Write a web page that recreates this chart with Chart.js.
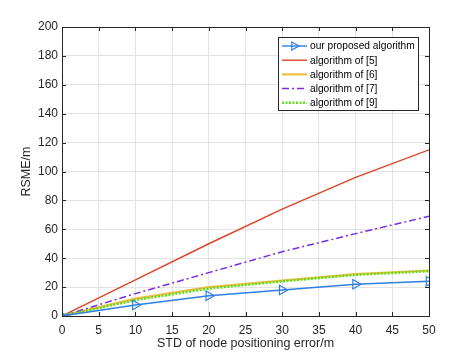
<!DOCTYPE html>
<html><head><meta charset="utf-8">
<script src="https://cdn.jsdelivr.net/npm/chart.js@4"></script>
<style>html,body{margin:0;padding:0;background:#fff}#w{width:474px;height:356px}</style>
</head><body><div id="w"><canvas id="c" width="474" height="356"></canvas></div>
<script>
const xValues = [0, 10, 20, 30, 40, 50];
const ours = [0, 7.6, 14, 18, 22, 24];
const alg5 = [0, 25, 50, 74, 96, 115];
const alg6 = [0, 12, 20, 24.5, 29, 31.5];
const alg7 = [0, 15.5, 30, 44.5, 57, 69];
const alg9 = [0, 11, 19, 24, 28.5, 31];
const labels = ['our proposed algorithm','algorithm of [5]','algorithm of [6]','algorithm of [7]','algorithm of [9]'];
const xTicks = [0,5,10,15,20,25,30,35,40,45,50];
const yTicks = [0,20,40,60,80,100,120,140,160,180,200];

const FONT = "'Liberation Sans', Arial, sans-serif";
const pts = a => a.map((v,i)=>({x:xValues[i], y:v}));

const boxPlugin = {
  id:'box',
  afterDatasetsDraw(chart){
    const {ctx, chartArea:a, scales:{x,y}} = chart;
    ctx.save();
    ctx.strokeStyle = '#262626'; ctx.lineWidth = 1;
    ctx.beginPath();
    xTicks.forEach(t=>{const p=Math.round(x.getPixelForValue(t))+0.5;
      ctx.moveTo(p,a.bottom); ctx.lineTo(p,a.bottom-4);
      ctx.moveTo(p,a.top); ctx.lineTo(p,a.top+4);});
    yTicks.forEach(t=>{const p=Math.round(y.getPixelForValue(t))+0.5;
      ctx.moveTo(a.left,p); ctx.lineTo(a.left+4,p);
      ctx.moveTo(a.right,p); ctx.lineTo(a.right-4,p);});
    ctx.stroke();
    ctx.strokeRect(Math.round(a.left)+0.5, Math.round(a.top)+0.5, Math.round(a.right-a.left), Math.round(a.bottom-a.top));
    // legend
    const lx=278.5, ly=37.5, lw=140, lh=73;
    ctx.fillStyle='#fff'; ctx.fillRect(lx,ly,lw,lh);
    ctx.strokeStyle='#262626'; ctx.strokeRect(lx,ly,lw,lh);
    ctx.font = '10.2px '+FONT; ctx.textBaseline='middle'; ctx.fillStyle='#000';
    chart.data.datasets.forEach((ds,i)=>{
      const yy = 46 + i*14.2;
      ctx.save();
      ctx.strokeStyle = ds.borderColor; ctx.lineWidth = ds.borderWidth;
      ctx.setLineDash(ds.borderDash || []);
      ctx.beginPath(); ctx.moveTo(282,yy); ctx.lineTo(307,yy); ctx.stroke();
      ctx.setLineDash([]);
      if (ds.pointRadius>0){
        ctx.lineWidth=1.2;
        const cx=294.5, r=4.5;
        ctx.beginPath(); ctx.moveTo(cx+r,yy); ctx.lineTo(cx-r*0.6,yy-r*0.9); ctx.lineTo(cx-r*0.6,yy+r*0.9); ctx.closePath(); ctx.stroke();
      }
      ctx.restore();
      ctx.fillText(ds.label, 310, yy+0.5);
    });
    ctx.restore();
  }
};

new Chart(document.getElementById('c'), {
  type:'line',
  data:{datasets:[
    {label:labels[0], data:pts(ours), borderColor:'#2f7fe3', borderWidth:1.4, pointStyle:'triangle', pointRotation:90, pointRadius:5.5, pointBorderWidth:1.2, pointBackgroundColor:'rgba(0,0,0,0)', pointBorderColor:'#2f7fe3', order:0},
    {label:labels[1], data:pts(alg5), borderColor:'#dc4328', borderWidth:1.4, pointRadius:0, order:4},
    {label:labels[2], data:pts(alg6), borderColor:'#edbe45', borderWidth:2.2, pointRadius:0, order:3},
    {label:labels[3], data:pts(alg7), borderColor:'#7a2de3', borderWidth:1.5, borderDash:[7,3,2,3], pointRadius:0, order:2},
    {label:labels[4], data:pts(alg9), borderColor:'#62dc1e', borderWidth:2.5, borderDash:[2,1.5], pointRadius:0, order:1}
  ]},
  options:{
    responsive:false, animation:false, devicePixelRatio:1,
    layout:{padding:{left:0,right:45,top:27,bottom:0}},
    plugins:{legend:{display:false}, tooltip:{enabled:false}},
    elements:{line:{tension:0}},
    scales:{
      x:{type:'linear', min:0, max:50,
        afterBuildTicks(s){s.ticks = xTicks.map(v=>({value:v}));},
        afterFit(s){s.height=40;},
        grid:{color:'#e3e3e3', drawTicks:false},
        border:{display:false},
        ticks:{color:'#262626', font:{family:FONT,size:12}, padding:7, maxRotation:0},
        title:{display:true, text:'STD of node positioning error/m', color:'#262626', font:{family:FONT,size:12.5}, padding:{top:1,bottom:5}}
      },
      y:{type:'linear', min:0, max:200,
        afterBuildTicks(s){s.ticks = yTicks.map(v=>({value:v}));},
        afterFit(s){s.width=62;},
        grid:{color:'#e3e3e3', drawTicks:false},
        border:{display:false},
        ticks:{color:'#262626', font:{family:FONT,size:12}, padding:4},
        title:{display:true, text:'RSME/m', color:'#262626', font:{family:FONT,size:12.5}, padding:{top:19,bottom:0}}
      }
    }
  },
  plugins:[boxPlugin]
});
</script></body></html>
